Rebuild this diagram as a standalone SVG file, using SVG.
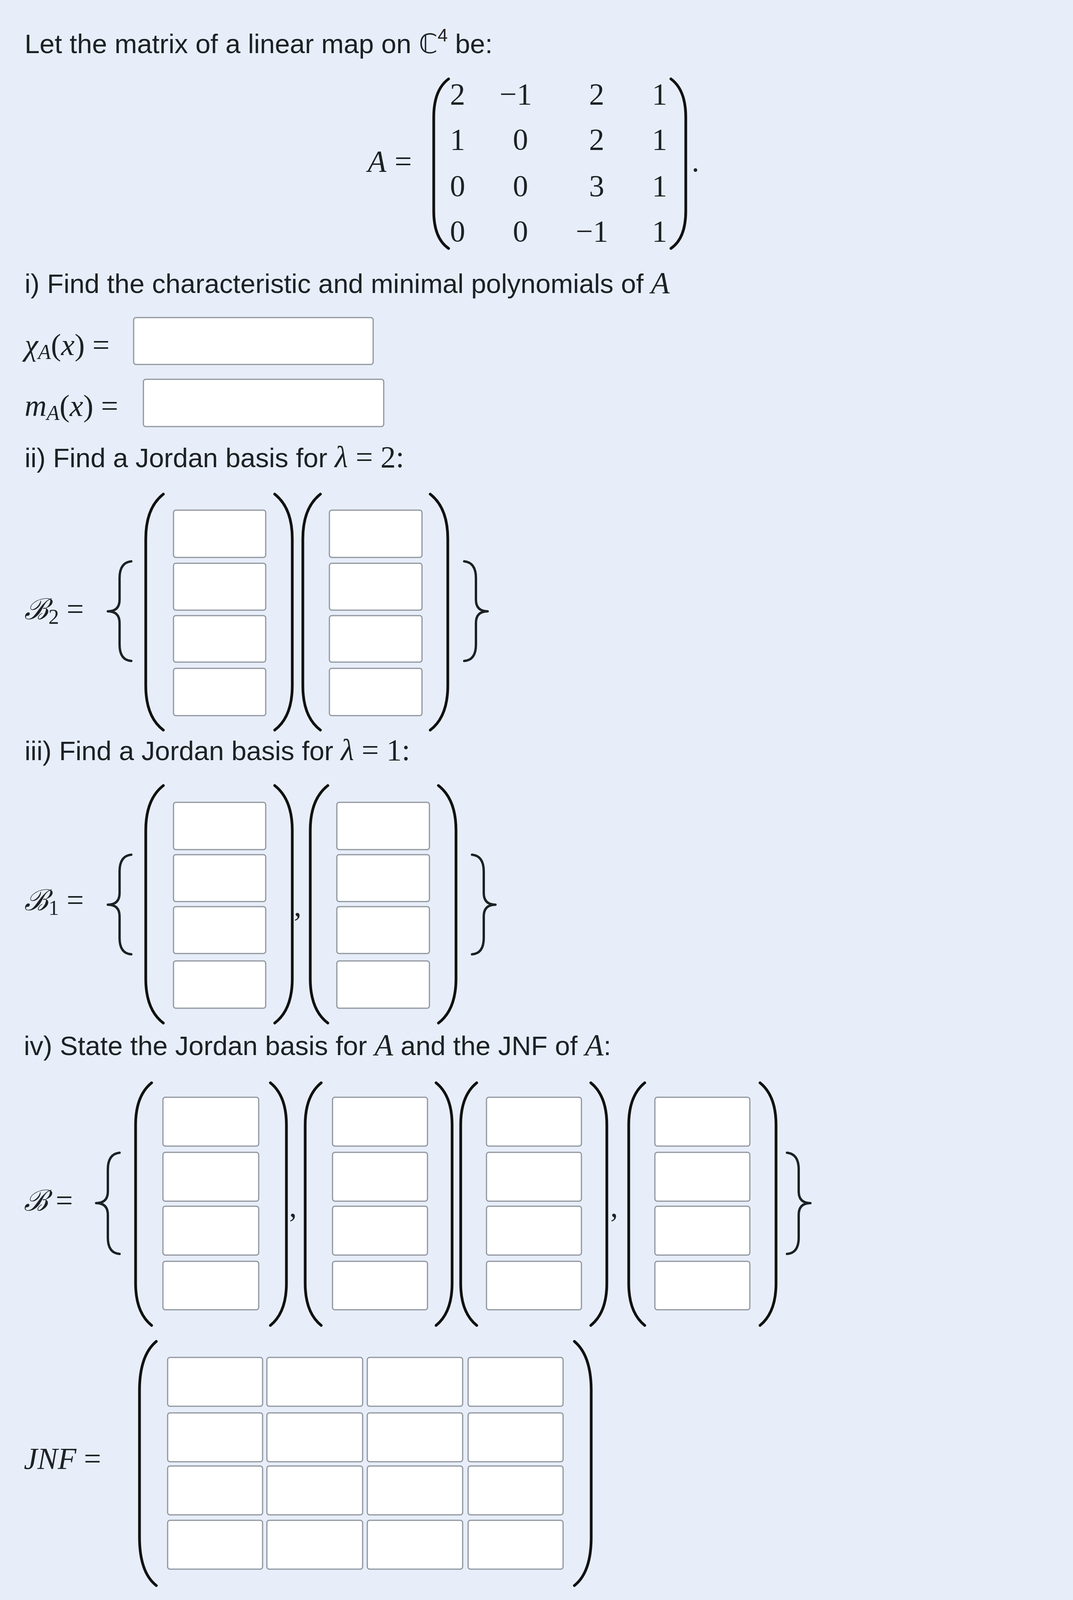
<svg xmlns="http://www.w3.org/2000/svg" width="2746" height="5096" viewBox="0 0 2746 5096">
<style>
.t{font-family:"Liberation Sans",Arial,sans-serif;font-size:69px;fill:#1d2125}
.m{font-family:"Liberation Serif","DejaVu Serif",serif;font-size:78px;fill:#1d2125}
.i{font-style:italic}
.b{fill:#fff;stroke:#8f959e;stroke-width:3}
.p{fill:none;stroke:#111;stroke-width:7;stroke-linecap:round}
.br{fill:none;stroke:#1d2125;stroke-width:6;stroke-linecap:round;stroke-linejoin:round}
</style>
<rect width="2746" height="5096" fill="#e7eef9"/>
<g id="title">
<text class="t" x="63" y="136">Let the matrix of a linear map on <tspan font-family="DejaVu Sans,sans-serif">ℂ</tspan><tspan dy="-30" font-size="46">4</tspan><tspan dy="30"> be:</tspan></text>
</g>
<g id="matrixA">
<text class="m i" x="941" y="439">A</text><text class="m" x="1010" y="439">=</text>
<path class="p" d="M1148,202 Q1110,230 1110,300 L1110,540 Q1110,610 1148,636"/>
<path class="p" d="M1717,202 Q1755,230 1755,300 L1755,540 Q1755,610 1717,636"/>
<g class="m" text-anchor="middle">
<text x="1171" y="267">2</text><text x="1320" y="267">−1</text><text x="1527" y="267">2</text><text x="1688" y="267">1</text>
<text x="1171" y="383">1</text><text x="1332" y="383">0</text><text x="1527" y="383">2</text><text x="1688" y="383">1</text>
<text x="1171" y="502">0</text><text x="1332" y="502">0</text><text x="1527" y="502">3</text><text x="1688" y="502">1</text>
<text x="1171" y="618">0</text><text x="1332" y="618">0</text><text x="1515" y="618">−1</text><text x="1688" y="618">1</text>
</g>
<text class="m" x="1770" y="439">.</text>
</g>
<g id="part1">
<text class="t" x="63" y="750">i) Find the characteristic and minimal polynomials of <tspan class="m i">A</tspan></text>
<text class="m" x="63" y="909"><tspan class="i">χ</tspan><tspan class="i" font-size="54" dy="10">A</tspan><tspan dy="-10">(</tspan><tspan class="i">x</tspan>) =</text>
<rect class="b" x="342" y="813" width="613" height="120" rx="6"/>
<text class="m" x="63" y="1065"><tspan class="i">m</tspan><tspan class="i" font-size="54" dy="10">A</tspan><tspan dy="-10">(</tspan><tspan class="i">x</tspan>) =</text>
<rect class="b" x="367" y="971" width="615" height="121" rx="6"/>
</g>
<g id="part2">
<text class="t" x="63" y="1196">ii) Find a Jordan basis for <tspan class="m i">λ</tspan><tspan class="m"> = 2:</tspan></text>
<text class="m" x="62" y="1585"><tspan class="i" font-family="DejaVu Serif,serif" font-size="74">ℬ</tspan><tspan font-size="54" dy="12">2</tspan><tspan dy="-12"> =</tspan></text>
<path class="br" d="M336,1437 Q306,1440 306,1480 L306,1535 Q306,1565 276,1565 Q306,1565 306,1595 L306,1650 Q306,1690 336,1692"/>
<path class="p" d="M418,1265 Q373,1300 373,1380 L373,1755 Q373,1835 418,1869"/>
<path class="p" d="M703,1265 Q748,1300 748,1380 L748,1755 Q748,1835 703,1869"/>
<path class="p" d="M820,1265 Q775,1300 775,1380 L775,1755 Q775,1835 820,1869"/>
<path class="p" d="M1101,1265 Q1146,1300 1146,1380 L1146,1755 Q1146,1835 1101,1869"/>
<g>
<rect class="b" x="444" y="1306" width="236" height="121" rx="6"/><rect class="b" x="444" y="1442" width="236" height="120" rx="6"/><rect class="b" x="444" y="1576" width="236" height="119" rx="6"/><rect class="b" x="444" y="1711" width="236" height="121" rx="6"/>
<rect class="b" x="843" y="1306" width="237" height="121" rx="6"/><rect class="b" x="843" y="1442" width="237" height="120" rx="6"/><rect class="b" x="843" y="1576" width="237" height="119" rx="6"/><rect class="b" x="843" y="1711" width="237" height="121" rx="6"/>
</g>
<path class="br" d="M1188,1437 Q1218,1440 1218,1480 L1218,1535 Q1218,1565 1248,1565 Q1218,1565 1218,1595 L1218,1650 Q1218,1690 1188,1692"/>
</g>
<g id="part3">
<text class="t" x="63" y="1946">iii) Find a Jordan basis for <tspan class="m i">λ</tspan><tspan class="m"> = 1:</tspan></text>
<text class="m" x="62" y="2330"><tspan class="i" font-family="DejaVu Serif,serif" font-size="74">ℬ</tspan><tspan font-size="54" dy="12">1</tspan><tspan dy="-12"> =</tspan></text>
<path class="br" d="M336,2188 Q306,2191 306,2231 L306,2286 Q306,2316 276,2316 Q306,2316 306,2346 L306,2401 Q306,2441 336,2443"/>
<path class="p" d="M418,2011 Q373,2046 373,2126 L373,2505 Q373,2585 418,2619"/>
<path class="p" d="M703,2011 Q748,2046 748,2126 L748,2505 Q748,2585 703,2619"/>
<text class="m" x="752" y="2345" font-size="60">,</text>
<path class="p" d="M839,2011 Q794,2046 794,2126 L794,2505 Q794,2585 839,2619"/>
<path class="p" d="M1122,2011 Q1167,2046 1167,2126 L1167,2505 Q1167,2585 1122,2619"/>
<g>
<rect class="b" x="444" y="2054" width="236" height="121" rx="6"/><rect class="b" x="444" y="2188" width="236" height="120" rx="6"/><rect class="b" x="444" y="2321" width="236" height="120" rx="6"/><rect class="b" x="444" y="2460" width="236" height="121" rx="6"/>
<rect class="b" x="862" y="2054" width="237" height="121" rx="6"/><rect class="b" x="862" y="2188" width="237" height="120" rx="6"/><rect class="b" x="862" y="2321" width="237" height="120" rx="6"/><rect class="b" x="862" y="2460" width="237" height="121" rx="6"/>
</g>
<path class="br" d="M1208,2188 Q1238,2191 1238,2231 L1238,2286 Q1238,2316 1268,2316 Q1238,2316 1238,2346 L1238,2401 Q1238,2441 1208,2443"/>
</g>
<g id="part4">
<text class="t" x="61" y="2701">iv) State the Jordan basis for <tspan class="m i">A</tspan> and the JNF of <tspan class="m i">A</tspan>:</text>
<text class="m" x="61" y="3099"><tspan class="i" font-family="DejaVu Serif,serif" font-size="74">ℬ</tspan> =</text>
<path class="br" d="M306,2951 Q276,2954 276,2994 L276,3050 Q276,3080 246,3080 Q276,3080 276,3110 L276,3168 Q276,3208 306,3210"/>
<path class="p" d="M388,2772 Q347,2805 347,2880 L347,3285 Q347,3360 388,3393"/>
<path class="p" d="M692,2772 Q733,2805 733,2880 L733,3285 Q733,3360 692,3393"/>
<text class="m" x="740" y="3115" font-size="56">,</text>
<path class="p" d="M822,2772 Q781,2805 781,2880 L781,3285 Q781,3360 822,3393"/>
<path class="p" d="M1116,2772 Q1157,2805 1157,2880 L1157,3285 Q1157,3360 1116,3393"/>
<path class="p" d="M1220,2772 Q1179,2805 1179,2880 L1179,3285 Q1179,3360 1220,3393"/>
<path class="p" d="M1512,2772 Q1553,2805 1553,2880 L1553,3285 Q1553,3360 1512,3393"/>
<text class="m" x="1562" y="3115" font-size="56">,</text>
<path class="p" d="M1650,2772 Q1609,2805 1609,2880 L1609,3285 Q1609,3360 1650,3393"/>
<path class="p" d="M1945,2772 Q1986,2805 1986,2880 L1986,3285 Q1986,3360 1945,3393"/>
<g>
<rect class="b" x="417" y="2809" width="245" height="125" rx="6"/><rect class="b" x="417" y="2950" width="245" height="125" rx="6"/><rect class="b" x="417" y="3088" width="245" height="125" rx="6"/><rect class="b" x="417" y="3229" width="245" height="124" rx="6"/>
<rect class="b" x="851" y="2809" width="243" height="125" rx="6"/><rect class="b" x="851" y="2950" width="243" height="125" rx="6"/><rect class="b" x="851" y="3088" width="243" height="125" rx="6"/><rect class="b" x="851" y="3229" width="243" height="124" rx="6"/>
<rect class="b" x="1245" y="2809" width="243" height="125" rx="6"/><rect class="b" x="1245" y="2950" width="243" height="125" rx="6"/><rect class="b" x="1245" y="3088" width="243" height="125" rx="6"/><rect class="b" x="1245" y="3229" width="243" height="124" rx="6"/>
<rect class="b" x="1676" y="2809" width="243" height="125" rx="6"/><rect class="b" x="1676" y="2950" width="243" height="125" rx="6"/><rect class="b" x="1676" y="3088" width="243" height="125" rx="6"/><rect class="b" x="1676" y="3229" width="243" height="124" rx="6"/>
</g>
<path class="br" d="M2014,2951 Q2044,2954 2044,2994 L2044,3050 Q2044,3080 2074,3080 Q2044,3080 2044,3110 L2044,3168 Q2044,3208 2014,3210"/>
<text class="m" x="61" y="3760"><tspan class="i">JNF</tspan> =</text>
<path class="p" d="M400,3434 Q357,3470 357,3560 L357,3935 Q357,4025 400,4059"/>
<path class="p" d="M1470,3434 Q1513,3470 1513,3560 L1513,3935 Q1513,4025 1470,4059"/>
<g>
<rect class="b" x="429" y="3475" width="243" height="125" rx="6"/><rect class="b" x="683" y="3475" width="245" height="125" rx="6"/><rect class="b" x="940" y="3475" width="244" height="125" rx="6"/><rect class="b" x="1198" y="3475" width="243" height="125" rx="6"/>
<rect class="b" x="429" y="3617" width="243" height="125" rx="6"/><rect class="b" x="683" y="3617" width="245" height="125" rx="6"/><rect class="b" x="940" y="3617" width="244" height="125" rx="6"/><rect class="b" x="1198" y="3617" width="243" height="125" rx="6"/>
<rect class="b" x="429" y="3753" width="243" height="125" rx="6"/><rect class="b" x="683" y="3753" width="245" height="125" rx="6"/><rect class="b" x="940" y="3753" width="244" height="125" rx="6"/><rect class="b" x="1198" y="3753" width="243" height="125" rx="6"/>
<rect class="b" x="429" y="3892" width="243" height="125" rx="6"/><rect class="b" x="683" y="3892" width="245" height="125" rx="6"/><rect class="b" x="940" y="3892" width="244" height="125" rx="6"/><rect class="b" x="1198" y="3892" width="243" height="125" rx="6"/>
</g>
</g>
<g id="part5">
<text class="t" x="61" y="4203">v) Is this JNF unique?</text>
<rect x="751" y="4098" width="734" height="164" fill="#fff" stroke="#dee2e6" stroke-width="3"/>
<text class="t" x="810" y="4203" style="fill:#495057">(Clear my choice)</text>
<path d="M1412,4162 L1426,4140 L1440,4162 Z M1412,4172 L1426,4194 L1440,4172 Z" fill="#343a40"/>
<text class="t" x="61" y="4374">If you have answered "No", please give another JNF of <tspan class="m i">A</tspan>:</text>
<path class="p" d="M106,4439 Q63,4475 63,4565 L63,4940 Q63,5030 106,5065"/>
<path class="p" d="M1171,4439 Q1214,4475 1214,4565 L1214,4940 Q1214,5030 1171,5065"/>
<g>
<rect class="b" x="131" y="4480" width="245" height="126" rx="6"/><rect class="b" x="389" y="4480" width="244" height="126" rx="6"/><rect class="b" x="646" y="4480" width="244" height="126" rx="6"/><rect class="b" x="901" y="4480" width="244" height="126" rx="6"/>
<rect class="b" x="131" y="4620" width="245" height="126" rx="6"/><rect class="b" x="389" y="4620" width="244" height="126" rx="6"/><rect class="b" x="646" y="4620" width="244" height="126" rx="6"/><rect class="b" x="901" y="4620" width="244" height="126" rx="6"/>
<rect class="b" x="131" y="4757" width="245" height="126" rx="6"/><rect class="b" x="389" y="4757" width="244" height="126" rx="6"/><rect class="b" x="646" y="4757" width="244" height="126" rx="6"/><rect class="b" x="901" y="4757" width="244" height="126" rx="6"/>
<rect class="b" x="131" y="4897" width="245" height="126" rx="6"/><rect class="b" x="389" y="4897" width="244" height="126" rx="6"/><rect class="b" x="646" y="4897" width="244" height="126" rx="6"/><rect class="b" x="901" y="4897" width="244" height="126" rx="6"/>
</g>
</g>
</svg>
